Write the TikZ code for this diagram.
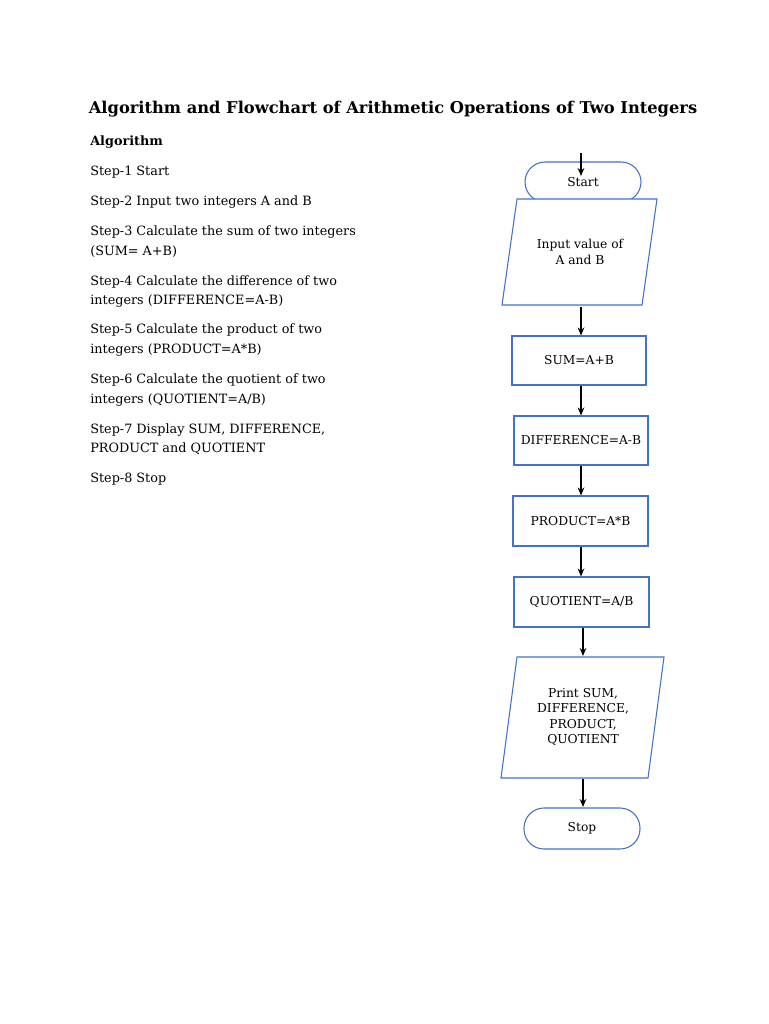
\documentclass[tikz,border=0pt]{standalone}
\usepackage{fontspec}
\setmainfont{DejaVu Serif}
\usetikzlibrary{arrows.meta}
\begin{document}
\begin{tikzpicture}[x=0.75pt,y=-0.75pt,
  box/.style={draw={rgb,255:red,68;green,114;blue,196},line width=0.8pt,fill=white},
  arr/.style={-{Stealth[length=6pt,width=5pt]},line width=1pt},
  txt/.style={font=\fontsize{9.2}{11.5}\selectfont,align=center},
  lt/.style={anchor=west,font=\fontsize{9.6}{12}\selectfont,inner sep=0}]
\useasboundingbox (0,0) rectangle (768,1024);
\node[font=\bfseries\fontsize{12.2}{14}\selectfont] (title) at (393,109) {Algorithm and Flowchart of Arithmetic Operations of Two Integers};
\node[lt,font=\bfseries\fontsize{9.6}{12}\selectfont] (alg) at (90,142) {Algorithm};
\node[lt] (s1) at (90,172) {Step-1 Start};
\node[lt] (s2) at (90,202) {Step-2 Input two integers A and B};
\node[lt] (s3a) at (90,232) {Step-3 Calculate the sum of two integers};
\node[lt] (s3b) at (90,252) {(SUM= A+B)};
\node[lt] (s4a) at (90,282) {Step-4 Calculate the difference of two};
\node[lt] (s4b) at (90,301) {integers (DIFFERENCE=A-B)};
\node[lt] (s5a) at (90,330) {Step-5 Calculate the product of two};
\node[lt] (s5b) at (90,350) {integers (PRODUCT=A*B)};
\node[lt] (s6a) at (90,380) {Step-6 Calculate the quotient of two};
\node[lt] (s6b) at (90,400) {integers (QUOTIENT=A/B)};
\node[lt] (s7a) at (90,430) {Step-7 Display SUM, DIFFERENCE,};
\node[lt] (s7b) at (90,449) {PRODUCT and QUOTIENT};
\node[lt] (s8) at (90,479) {Step-8 Stop};

\draw[box,rounded corners=15pt] (525,162) rectangle (641,202);
\node[txt] (start) at (583,182) {Start};
\coordinate (top) at (581,153);
\coordinate (topend) at (581,176);
\draw[arr] (top) -- (topend);

\draw[box] (517,199) -- (657,199) -- (642,305) -- (502,305) -- cycle;
\node[txt] (in) at (580,252) {Input value of\\A and B};
\coordinate (inb) at (581,307);

\node[box,txt,minimum width=134pt*0.75,minimum height=49pt*0.75] (sum) at (579,360.5) {SUM=A+B};
\node[box,txt,minimum width=134pt*0.75,minimum height=49pt*0.75] (diff) at (581,440.5) {DIFFERENCE=A-B};
\node[box,txt,minimum width=135pt*0.75,minimum height=50pt*0.75] (prod) at (580.5,521) {PRODUCT=A*B};
\node[box,txt,minimum width=135pt*0.75,minimum height=50pt*0.75] (quot) at (581.5,602) {QUOTIENT=A/B};

\draw[box] (517,657) -- (664,657) -- (648,778) -- (501,778) -- cycle;
\node[txt] (pr) at (583,717) {Print SUM,\\DIFFERENCE,\\PRODUCT,\\QUOTIENT};
\coordinate (prt) at (583,656);
\coordinate (prb) at (583,779);

\draw[box,rounded corners=15pt] (524,808) rectangle (640,849);
\node[txt] (stop) at (582,828.5) {Stop};
\coordinate (stopt) at (583,807);

\draw[arr] (inb) -- (sum.north -| inb);
\draw[arr] (sum.south -| diff.north) -- (diff.north);
\draw[arr] (diff.south) -- (diff.south |- prod.north);
\draw[arr] (prod.south -| diff.south) -- (quot.north -| diff.south);
\draw[arr] (quot.south -| prt) -- (prt);
\draw[arr] (prb) -- (stopt);
\end{tikzpicture}
\end{document}
